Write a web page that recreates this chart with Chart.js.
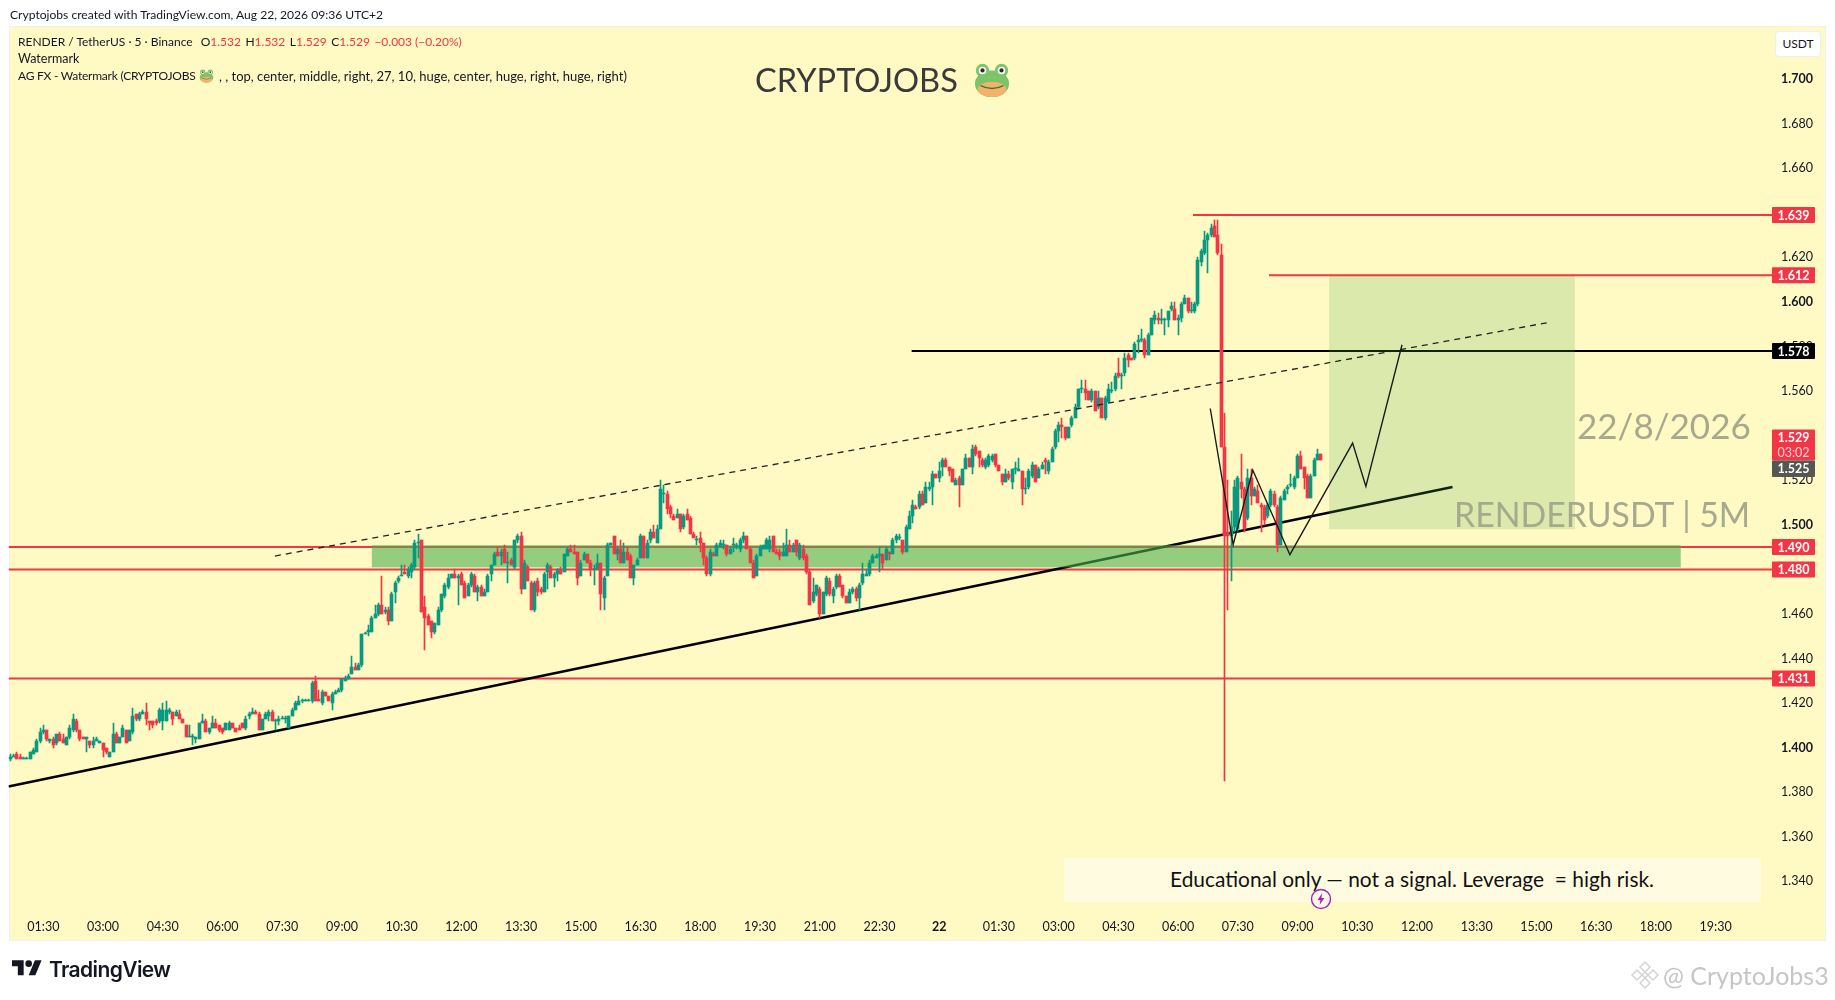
<!DOCTYPE html>
<html>
<head>
<meta charset="utf-8">
<title>RENDERUSDT 5M</title>
<script src="https://cdn.jsdelivr.net/npm/chart.js@4/dist/chart.umd.js"></script>
<style>
  html, body { margin: 0; background: #fff; }
  body { position: relative; width: 1835px; height: 1000px; overflow: hidden; font-family: Lato, sans-serif; color: #131722; }
  #panel { position: absolute; left: 10px; top: 27px; width: 1815px; height: 913px; background: #FFF9C4; box-shadow: 0 0 0 1px #f0f0f0; }
  #chart { position: absolute; left: 0; top: 0; }
  .t { position: absolute; white-space: nowrap; }
  .red { color: #F23645; }
  .gap { margin-left: 4.5px; }
  .wm { color: #A7A98F; font-size: 35px; line-height: 44px; }
  #usdt { left: 1775px; top: 31px; width: 46px; height: 26px; line-height: 26px; text-align: center; background: #fff; border-radius: 4px; box-sizing: border-box; box-shadow: inset 0 0 0 1px #eceef2; font-size: 12px; }
  #edu { left: 1064px; top: 858px; width: 697px; height: 44px; background: #FFFBE1; }
  svg { position: absolute; }
</style>
</head>
<body>
<div id="panel"></div>
<canvas id="chart" width="1835" height="1000"></canvas>

<div class="t" style="left:10px;top:7px;font-size:12.1px;line-height:16px">Cryptojobs created with TradingView.com, Aug 22, 2026 09:36 UTC+2</div>
<div class="t" style="left:18px;top:34px;font-size:12px;line-height:16px">RENDER / TetherUS · 5 · Binance<span style="margin-left:8px">O</span><span class="red">1.532</span><span class="gap">H</span><span class="red">1.532</span><span class="gap">L</span><span class="red">1.529</span><span class="gap">C</span><span class="red">1.529</span><span class="red gap">−0.003 (−0.20%)</span></div>
<div class="t" style="left:18px;top:51px;font-size:12.5px;line-height:16px">Watermark</div>
<div class="t" style="left:18px;top:68px;font-size:12px;letter-spacing:-0.24px;line-height:16px">AG FX - Watermark (CRYPTOJOBS</div>
<svg style="left:199px;top:68px" width="15" height="15" viewBox="0 0 40 40"><use href="#frog"/></svg>
<div class="t" style="left:219px;top:68px;font-size:13px;line-height:16px">, , top, center, middle, right, 27, 10, huge, center, huge, right, huge, right)</div>

<div class="t" style="left:755px;top:58px;font-size:32.6px;line-height:44px;color:#3a3a3a">CRYPTOJOBS</div>
<svg style="left:973px;top:60px" width="38" height="38" viewBox="0 0 40 40">
  <defs><g id="frog">
    <ellipse cx="20" cy="25" rx="18" ry="14" fill="#7CC36A"/>
    <ellipse cx="20" cy="31" rx="15" ry="8" fill="#F5B26B"/>
    <circle cx="10" cy="11" r="7" fill="#7CC36A"/><circle cx="30" cy="11" r="7" fill="#7CC36A"/>
    <circle cx="10" cy="11" r="4" fill="#fff"/><circle cx="30" cy="11" r="4" fill="#fff"/>
    <circle cx="10" cy="11" r="2.2" fill="#2b2b2b"/><circle cx="30" cy="11" r="2.2" fill="#2b2b2b"/>
    <path d="M8 27 Q20 33 32 27" stroke="#3d7a3a" stroke-width="1.5" fill="none"/>
  </g></defs>
  <use href="#frog"/>
</svg>

<div id="usdt" class="t">USDT</div>
<div class="t wm" style="left:1577px;top:403px">22/8/2026</div>
<div class="t wm" style="left:1454px;top:492px;font-size:33.8px">RENDERUSDT | 5M</div>

<div id="edu" class="t"></div>
<div class="t" style="left:1170px;top:865px;font-size:20.9px;line-height:28px;color:#111">Educational only — not a signal. Leverage&nbsp; = high risk.</div>
<svg style="left:1310px;top:888px" width="22" height="22" viewBox="0 0 22 22">
  <circle cx="11" cy="11" r="9.5" fill="#FFF8E8" stroke="#9C27B0" stroke-width="1.4"/>
  <path d="M12.2 5 L7.6 12 H10.4 L9.6 17 L14.4 10 H11.4 Z" fill="#9C27B0"/>
</svg>

<svg style="left:12px;top:957px" width="30" height="23.4" viewBox="0 0 36 28" fill="#131722">
  <path d="M14 22H7V11H0V4h14v18zM28 22h-8l7.5-18h8L28 22z"/><circle cx="20" cy="8" r="4"/>
</svg>
<div class="t" style="left:49px;top:955px;font-family:Inter,sans-serif;font-weight:600;font-size:21px;line-height:30px;letter-spacing:-0.6px;color:#131722">TradingView</div>

<svg style="left:1630px;top:960px" width="30" height="30" viewBox="0 0 30 30" fill="none" stroke="#d2d2d2" stroke-width="1.4">
  <path d="M15 2 L20 7 L15 12 L10 7 Z M7 10 L12 15 L7 20 L2 15 Z M23 10 L28 15 L23 20 L18 15 Z M15 18 L20 23 L15 28 L10 23 Z M15 12 L18 15 L15 18 L12 15 Z"/>
</svg>
<div class="t" style="left:1663px;top:960px;font-size:25px;line-height:30px;color:#c6c6c6">@ CryptoJobs3</div>

<script>
// OHLC of the 5 minute candles
const candleOpen = [
  1.395,1.396,1.397,1.396,1.395,1.395,1.395,1.397,1.398,1.403,
  1.407,1.408,1.403,1.404,1.402,1.406,1.404,1.401,1.405,1.408,
  1.412,1.408,1.405,1.404,1.403,1.401,1.403,1.402,1.402,1.400,
  1.396,1.398,1.406,1.402,1.405,1.408,1.403,1.407,1.415,1.413,
  1.415,1.416,1.412,1.412,1.412,1.412,1.412,1.412,1.416,1.416,
  1.414,1.415,1.413,1.410,1.405,1.405,1.404,1.404,1.411,1.412,
  1.407,1.409,1.411,1.410,1.409,1.408,1.408,1.411,1.409,1.409,
  1.411,1.409,1.414,1.415,1.416,1.415,1.408,1.413,1.414,1.416,
  1.412,1.412,1.413,1.413,1.409,1.414,1.417,1.419,1.421,1.421,
  1.421,1.421,1.430,1.422,1.420,1.425,1.423,1.420,1.424,1.425,
  1.426,1.430,1.431,1.433,1.436,1.435,1.437,1.451,1.452,1.452,
  1.458,1.460,1.464,1.461,1.462,1.457,1.470,1.475,1.477,1.479,
  1.477,1.479,1.481,1.492,1.493,1.463,1.459,1.457,1.452,1.455,
  1.462,1.468,1.472,1.476,1.478,1.476,1.478,1.474,1.468,1.473,
  1.477,1.470,1.472,1.468,1.470,1.478,1.482,1.488,1.486,1.489,
  1.483,1.484,1.481,1.493,1.495,1.471,1.481,1.474,1.462,1.475,
  1.471,1.470,1.479,1.481,1.476,1.478,1.480,1.479,1.486,1.489,
  1.488,1.488,1.477,1.484,1.487,1.483,1.480,1.480,1.483,1.467,
  1.477,1.491,1.495,1.487,1.489,1.483,1.488,1.486,1.476,1.482,
  1.485,1.495,1.485,1.493,1.497,1.492,1.498,1.514,1.514,1.508,
  1.504,1.503,1.505,1.499,1.505,1.503,1.496,1.493,1.494,1.492,
  1.485,1.478,1.487,1.486,1.490,1.491,1.491,1.487,1.491,1.490,
  1.489,1.493,1.495,1.489,1.483,1.477,1.486,1.489,1.489,1.489,
  1.495,1.488,1.488,1.486,1.486,1.491,1.488,1.493,1.485,1.489,
  1.486,1.479,1.466,1.469,1.471,1.460,1.469,1.475,1.468,1.472,
  1.477,1.473,1.468,1.465,1.470,1.471,1.467,1.474,1.477,1.478,
  1.483,1.485,1.486,1.487,1.484,1.488,1.487,1.493,1.494,1.493,
  1.488,1.498,1.504,1.508,1.508,1.514,1.510,1.516,1.517,1.523,
  1.521,1.526,1.529,1.526,1.525,1.518,1.521,1.518,1.525,1.530,
  1.526,1.535,1.533,1.529,1.526,1.527,1.529,1.532,1.527,1.523,
  1.519,1.523,1.519,1.525,1.524,1.524,1.516,1.517,1.522,1.527,
  1.521,1.525,1.529,1.524,1.528,1.535,1.542,1.545,1.544,1.539,
  1.545,1.548,1.553,1.561,1.561,1.560,1.556,1.560,1.553,1.557,
  1.548,1.555,1.560,1.561,1.568,1.567,1.568,1.576,1.575,1.575,
  1.582,1.583,1.583,1.576,1.585,1.592,1.593,1.592,1.592,1.592,
  1.597,1.597,1.592,1.593,1.599,1.602,1.596,1.596,1.599,1.618,
  1.622,1.628,1.630,1.634,1.630,1.621,1.535,1.497,1.495,1.499,
  1.498,1.519,1.516,1.503,1.521,1.513,1.515,1.509,1.508,1.504,
  1.509,1.514,1.508,1.491,1.511,1.516,1.518,1.517,1.521,1.531,
  1.526,1.522,1.512,1.522,1.529,1.532
];
const candleClose = [
  1.396,1.396,1.395,1.395,1.395,1.395,1.398,1.399,1.403,1.407,
  1.408,1.404,1.404,1.401,1.406,1.403,1.402,1.405,1.409,1.413,
  1.408,1.404,1.404,1.405,1.401,1.403,1.404,1.403,1.399,1.398,
  1.398,1.406,1.402,1.405,1.409,1.402,1.408,1.414,1.413,1.415,
  1.416,1.413,1.411,1.410,1.411,1.417,1.417,1.417,1.417,1.413,
  1.416,1.413,1.411,1.405,1.405,1.405,1.405,1.411,1.412,1.407,
  1.409,1.411,1.409,1.408,1.407,1.411,1.411,1.409,1.407,1.408,
  1.409,1.413,1.415,1.416,1.415,1.408,1.413,1.415,1.416,1.412,
  1.412,1.413,1.413,1.413,1.414,1.417,1.420,1.421,1.421,1.421,
  1.421,1.429,1.421,1.421,1.425,1.423,1.421,1.424,1.425,1.426,
  1.431,1.431,1.432,1.436,1.435,1.437,1.451,1.451,1.453,1.458,
  1.460,1.464,1.460,1.462,1.457,1.469,1.474,1.476,1.477,1.478,
  1.480,1.482,1.492,1.492,1.461,1.458,1.455,1.452,1.456,1.462,
  1.469,1.473,1.476,1.478,1.476,1.477,1.473,1.467,1.473,1.478,
  1.470,1.472,1.468,1.470,1.477,1.482,1.487,1.486,1.488,1.483,
  1.483,1.482,1.493,1.495,1.471,1.483,1.475,1.462,1.474,1.470,
  1.470,1.478,1.482,1.476,1.478,1.480,1.478,1.487,1.489,1.488,
  1.487,1.476,1.483,1.487,1.483,1.480,1.480,1.483,1.469,1.476,
  1.491,1.492,1.487,1.489,1.483,1.488,1.484,1.476,1.482,1.484,
  1.495,1.485,1.492,1.497,1.494,1.498,1.516,1.514,1.507,1.505,
  1.502,1.505,1.498,1.504,1.502,1.496,1.494,1.493,1.492,1.485,
  1.478,1.488,1.486,1.491,1.492,1.491,1.487,1.489,1.491,1.491,
  1.493,1.495,1.489,1.483,1.476,1.486,1.490,1.491,1.493,1.493,
  1.488,1.487,1.486,1.488,1.491,1.488,1.491,1.488,1.491,1.485,
  1.479,1.464,1.470,1.473,1.460,1.470,1.476,1.469,1.471,1.477,
  1.472,1.468,1.465,1.470,1.471,1.467,1.473,1.478,1.478,1.483,
  1.486,1.486,1.487,1.483,1.489,1.487,1.493,1.495,1.494,1.488,
  1.499,1.504,1.509,1.507,1.514,1.509,1.517,1.517,1.523,1.521,
  1.524,1.529,1.526,1.524,1.519,1.520,1.518,1.525,1.530,1.526,
  1.534,1.532,1.530,1.527,1.529,1.531,1.531,1.527,1.524,1.519,
  1.523,1.521,1.525,1.525,1.525,1.516,1.516,1.524,1.527,1.519,
  1.525,1.527,1.528,1.528,1.534,1.542,1.545,1.544,1.539,1.544,
  1.548,1.553,1.561,1.561,1.559,1.556,1.560,1.551,1.557,1.548,
  1.557,1.561,1.560,1.567,1.567,1.567,1.575,1.574,1.574,1.581,
  1.583,1.583,1.576,1.585,1.593,1.594,1.592,1.592,1.592,1.596,
  1.598,1.592,1.593,1.599,1.602,1.596,1.596,1.599,1.619,1.623,
  1.628,1.630,1.633,1.629,1.622,1.535,1.495,1.495,1.499,1.517,
  1.521,1.516,1.498,1.521,1.513,1.516,1.510,1.508,1.502,1.509,
  1.515,1.509,1.491,1.512,1.515,1.517,1.518,1.521,1.531,1.525,
  1.521,1.512,1.522,1.529,1.532,1.529
];
const candleHigh = [
  1.397,1.397,1.398,1.397,1.396,1.396,1.398,1.400,1.404,1.409,
  1.410,1.408,1.404,1.405,1.406,1.407,1.406,1.405,1.410,1.415,
  1.413,1.408,1.405,1.405,1.403,1.405,1.405,1.403,1.402,1.400,
  1.398,1.411,1.407,1.405,1.410,1.408,1.408,1.418,1.415,1.416,
  1.417,1.420,1.412,1.412,1.413,1.418,1.420,1.421,1.418,1.416,
  1.417,1.417,1.413,1.410,1.410,1.406,1.405,1.411,1.415,1.413,
  1.409,1.414,1.413,1.410,1.409,1.411,1.412,1.411,1.409,1.410,
  1.411,1.414,1.416,1.418,1.417,1.416,1.413,1.416,1.417,1.417,
  1.413,1.414,1.414,1.414,1.414,1.418,1.421,1.423,1.422,1.422,
  1.422,1.430,1.432,1.426,1.426,1.425,1.423,1.425,1.426,1.427,
  1.431,1.432,1.433,1.441,1.438,1.438,1.451,1.452,1.455,1.459,
  1.464,1.465,1.477,1.463,1.463,1.470,1.475,1.477,1.482,1.482,
  1.481,1.483,1.493,1.496,1.493,1.468,1.460,1.457,1.456,1.463,
  1.469,1.474,1.478,1.478,1.480,1.478,1.479,1.475,1.474,1.479,
  1.478,1.473,1.473,1.471,1.478,1.482,1.488,1.490,1.489,1.491,
  1.488,1.485,1.493,1.496,1.497,1.484,1.482,1.475,1.475,1.476,
  1.472,1.479,1.483,1.482,1.479,1.480,1.481,1.487,1.490,1.491,
  1.491,1.488,1.484,1.488,1.487,1.484,1.482,1.487,1.483,1.477,
  1.492,1.492,1.495,1.490,1.493,1.492,1.490,1.487,1.482,1.485,
  1.496,1.495,1.493,1.498,1.500,1.500,1.520,1.518,1.515,1.509,
  1.505,1.507,1.505,1.505,1.507,1.504,1.497,1.495,1.497,1.492,
  1.486,1.489,1.488,1.492,1.493,1.493,1.491,1.490,1.494,1.492,
  1.494,1.497,1.495,1.490,1.484,1.487,1.491,1.491,1.494,1.495,
  1.495,1.489,1.489,1.492,1.498,1.493,1.492,1.493,1.492,1.491,
  1.487,1.480,1.476,1.473,1.472,1.470,1.477,1.476,1.472,1.478,
  1.478,1.473,1.468,1.471,1.472,1.472,1.474,1.483,1.480,1.484,
  1.487,1.487,1.490,1.487,1.490,1.488,1.494,1.496,1.496,1.493,
  1.500,1.506,1.511,1.509,1.515,1.515,1.519,1.519,1.524,1.523,
  1.528,1.530,1.530,1.526,1.525,1.521,1.522,1.525,1.532,1.530,
  1.536,1.536,1.533,1.530,1.530,1.532,1.532,1.532,1.527,1.523,
  1.525,1.524,1.525,1.528,1.530,1.524,1.521,1.525,1.528,1.527,
  1.526,1.528,1.530,1.529,1.535,1.543,1.546,1.548,1.544,1.544,
  1.549,1.554,1.561,1.565,1.565,1.560,1.561,1.560,1.560,1.557,
  1.558,1.563,1.564,1.568,1.575,1.568,1.577,1.577,1.575,1.582,
  1.585,1.588,1.584,1.586,1.593,1.596,1.595,1.597,1.593,1.596,
  1.600,1.600,1.594,1.600,1.603,1.602,1.600,1.600,1.620,1.624,
  1.632,1.631,1.635,1.637,1.637,1.626,1.550,1.520,1.506,1.520,
  1.522,1.532,1.517,1.525,1.525,1.517,1.518,1.510,1.509,1.510,
  1.516,1.515,1.509,1.513,1.516,1.518,1.523,1.522,1.532,1.533,
  1.526,1.523,1.523,1.530,1.534,1.532
];
const candleLow = [
  1.394,1.396,1.395,1.395,1.395,1.395,1.395,1.397,1.398,1.402,
  1.406,1.403,1.402,1.400,1.401,1.403,1.402,1.401,1.404,1.407,
  1.407,1.403,1.404,1.398,1.400,1.400,1.403,1.402,1.396,1.397,
  1.396,1.398,1.402,1.402,1.405,1.402,1.403,1.406,1.412,1.412,
  1.415,1.410,1.408,1.409,1.410,1.411,1.408,1.412,1.415,1.410,
  1.414,1.413,1.411,1.405,1.405,1.401,1.402,1.404,1.411,1.407,
  1.406,1.409,1.409,1.407,1.406,1.408,1.408,1.409,1.407,1.408,
  1.409,1.408,1.413,1.415,1.415,1.408,1.408,1.413,1.412,1.412,
  1.408,1.410,1.413,1.411,1.409,1.414,1.417,1.419,1.420,1.421,
  1.421,1.420,1.421,1.421,1.419,1.423,1.421,1.417,1.424,1.425,
  1.425,1.430,1.431,1.433,1.435,1.435,1.436,1.451,1.450,1.452,
  1.458,1.459,1.460,1.460,1.455,1.457,1.465,1.474,1.477,1.478,
  1.476,1.476,1.480,1.485,1.461,1.444,1.455,1.449,1.451,1.455,
  1.461,1.467,1.471,1.476,1.476,1.464,1.473,1.467,1.468,1.472,
  1.470,1.466,1.468,1.468,1.470,1.475,1.482,1.486,1.482,1.483,
  1.474,1.482,1.480,1.492,1.469,1.471,1.475,1.462,1.461,1.468,
  1.469,1.470,1.471,1.476,1.472,1.475,1.478,1.479,1.486,1.488,
  1.487,1.473,1.477,1.484,1.483,1.477,1.473,1.480,1.462,1.462,
  1.477,1.491,1.487,1.484,1.483,1.483,1.484,1.476,1.473,1.482,
  1.485,1.485,1.485,1.492,1.494,1.492,1.498,1.510,1.505,1.503,
  1.502,1.503,1.497,1.498,1.502,1.496,1.494,1.491,1.488,1.482,
  1.477,1.477,1.486,1.486,1.490,1.489,1.486,1.487,1.488,1.489,
  1.488,1.492,1.489,1.483,1.476,1.477,1.486,1.489,1.489,1.488,
  1.488,1.487,1.484,1.486,1.486,1.488,1.488,1.486,1.484,1.484,
  1.478,1.464,1.465,1.468,1.458,1.460,1.468,1.468,1.465,1.471,
  1.472,1.467,1.465,1.465,1.469,1.466,1.462,1.473,1.477,1.477,
  1.483,1.485,1.479,1.480,1.484,1.484,1.487,1.492,1.493,1.487,
  1.488,1.498,1.501,1.507,1.507,1.509,1.510,1.515,1.509,1.521,
  1.519,1.522,1.526,1.522,1.519,1.518,1.508,1.518,1.525,1.526,
  1.523,1.531,1.526,1.526,1.525,1.526,1.528,1.526,1.524,1.518,
  1.519,1.520,1.516,1.523,1.524,1.509,1.514,1.516,1.521,1.519,
  1.521,1.525,1.523,1.523,1.528,1.534,1.537,1.539,1.538,1.539,
  1.544,1.548,1.552,1.559,1.556,1.556,1.555,1.551,1.552,1.548,
  1.547,1.555,1.559,1.560,1.566,1.561,1.567,1.571,1.574,1.574,
  1.577,1.582,1.575,1.576,1.585,1.590,1.590,1.590,1.585,1.589,
  1.596,1.592,1.585,1.591,1.599,1.595,1.595,1.595,1.598,1.616,
  1.621,1.613,1.629,1.629,1.621,1.535,1.385,1.462,1.475,1.497,
  1.497,1.512,1.497,1.502,1.509,1.513,1.510,1.497,1.500,1.503,
  1.508,1.508,1.488,1.491,1.511,1.514,1.517,1.516,1.521,1.525,
  1.516,1.512,1.512,1.522,1.529,1.529
];

const timeLabels = ['01:30','03:00','04:30','06:00','07:30','09:00','10:30','12:00','13:30','15:00','16:30','18:00','19:30','21:00','22:30','22',
  '01:30','03:00','04:30','06:00','07:30','09:00','10:30','12:00','13:30','15:00','16:30','18:00','19:30'];
const priceTicks = [1.34,1.36,1.38,1.40,1.42,1.44,1.46,1.48,1.50,1.52,1.54,1.56,1.58,1.60,1.62,1.64,1.66,1.68,1.70];

// horizontal levels: price, first bar
const levelPrices = [1.639, 1.612, 1.578, 1.490, 1.480, 1.431];
const levelStarts = [356.5, 379.4, 271.7, -0.5, -0.5, -0.5];
const levelColors = ['#F23645', '#F23645', '#000000', '#F23645', '#F23645', '#F23645'];

// drawings as [bar, price]
const supportLine = [[-0.5, 1.3826], [434.7, 1.517]];
const channelLine = [[79.8, 1.486], [463.2, 1.5907]];
const projection = [[361.7, 1.5522], [368.6, 1.4911], [374.5, 1.5246], [385.7, 1.4866], [404.6, 1.5367], [408.6, 1.5172], [419.5, 1.5808]];

// boxes: first bar, last bar, top price, bottom price
const zoneBox = [109, 503.5, 1.4909, 1.4809];
const targetBox = [397.5, 471.6, 1.6117, 1.498];

const X_MIN = -0.5, X_MAX = 531;
const Y_MIN = 1.3294, Y_MAX = 1.7234;
const UP = '#089981', DOWN = '#F23645';

const toXY = ([x, y]) => ({ x, y });
const candleColor = ctx => candleClose[ctx.dataIndex] >= candleOpen[ctx.dataIndex] ? UP : DOWN;

function lineSet(points, color, width, order, dash) {
  return {
    type: 'line', data: points.map(toXY), borderColor: color, borderWidth: width,
    borderDash: dash || [], pointRadius: 0, tension: 0, order,
  };
}

const levelSets = levelPrices.map((p, i) =>
  lineSet([[levelStarts[i], p], [X_MAX, p]], levelColors[i], 2, 10));

const boxesPlugin = {
  id: 'boxes',
  // boxes sit over the level lines and the support line, under the candles
  beforeDatasetDraw(chart, args) {
    if (args.meta.type !== 'bar' || args.meta.order !== 5) return;
    const { x, y } = chart.scales;
    const ctx = chart.ctx;
    const fill = (box, color) => {
      ctx.fillStyle = color;
      ctx.fillRect(x.getPixelForValue(box[0]), y.getPixelForValue(box[2]),
        x.getPixelForValue(box[1]) - x.getPixelForValue(box[0]), y.getPixelForValue(box[3]) - y.getPixelForValue(box[2]));
    };
    fill(targetBox, 'rgba(76,175,80,0.2)');
    fill(zoneBox, 'rgba(76,175,80,0.6)');
  },
};

// keep the candles on whole pixels so they stay as sharp as the reference
const snapPlugin = {
  id: 'snap',
  afterDatasetsUpdate(chart) {
    chart.getSortedVisibleDatasetMetas().forEach(meta => {
      if (meta.type !== 'bar') return;
      meta.data.forEach(el => {
        el.x = Math.floor(el.x) + 0.5;
        el.y = Math.round(el.y);
        el.base = Math.round(el.base);
        if (el.y === el.base) el.base += 1;
      });
    });
  },
};

const tagsPlugin = {
  id: 'tags',
  afterDraw(chart) {
    const { ctx, chartArea } = chart;
    const y = chart.scales.y;
    const left = chartArea.right, w = 43;
    const rect = (top, h, color) => {
      ctx.fillStyle = color;
      ctx.beginPath();
      ctx.roundRect(left, top, w, h, 1);
      ctx.fill();
    };
    const label = (text, cy, color, weight) => {
      ctx.fillStyle = color;
      ctx.font = (weight || 'bold') + ' 12.5px Lato, sans-serif';
      ctx.textAlign = 'center';
      ctx.textBaseline = 'middle';
      ctx.fillText(text, left + w / 2, cy);
    };
    levelPrices.forEach((p, i) => {
      const cy = y.getPixelForValue(p);
      rect(cy - 8, 16, levelColors[i]);
      label(p.toFixed(3), cy + 0.5, '#fff');
    });
    // last price with countdown, prior close below it
    const prevY = y.getPixelForValue(1.525);
    rect(prevY - 8.5 - 31, 31, '#F23645');
    label('1.529', prevY - 8.5 - 23, '#fff');
    label('03:02', prevY - 8.5 - 8, '#FFD0D5', 'normal');
    rect(prevY - 8.5, 16.5, '#555753');
    label('1.525', prevY, '#fff');
  },
};

new Chart(document.getElementById('chart'), {
  type: 'bar',
  data: {
    datasets: [
      lineSet(supportLine, '#000000', 2.5, 9),
      ...levelSets,
      {
        data: candleLow.map((l, i) => ({ x: i, y: [l, candleHigh[i]] })),
        backgroundColor: candleColor, barThickness: 1, grouped: false, order: 5,
      },
      {
        data: candleOpen.map((o, i) => ({ x: i, y: [o, candleClose[i]] })),
        backgroundColor: candleColor, barThickness: 3, grouped: false, minBarLength: 1, order: 4,
      },
      lineSet(channelLine, '#222222', 1.3, 2, [6, 5]),
      lineSet(projection, '#1c1c1c', 1.4, 1),
    ],
  },
  options: {
    responsive: false,
    animation: false,
    devicePixelRatio: 1,
    events: [],
    layout: { padding: { left: 8.5, top: 27, right: 0, bottom: 60 } },
    plugins: { legend: { display: false }, tooltip: { enabled: false } },
    scales: {
      x: {
        type: 'linear', min: X_MIN, max: X_MAX, offset: false,
        grid: { display: false, drawTicks: false }, border: { display: false },
        afterBuildTicks: s => { s.ticks = timeLabels.map((_, k) => ({ value: 10 + 18 * k })); },
        afterFit: s => { s.height = 35; },
        ticks: {
          autoSkip: false, maxRotation: 0, padding: 14, color: '#131722',
          font: ctx => ({ family: 'Lato, sans-serif', size: 12.5, weight: ctx.index === 15 ? 'bold' : 'normal' }),
          callback: (v, k) => timeLabels[k],
        },
      },
      y: {
        type: 'linear', position: 'right', min: Y_MIN, max: Y_MAX,
        grid: { display: false, drawTicks: false }, border: { display: false },
        afterBuildTicks: s => { s.ticks = priceTicks.map(value => ({ value })); },
        afterFit: s => { s.width = 63; },
        ticks: {
          padding: 9, color: '#131722',
          font: ctx => ({ family: 'Lato, sans-serif', size: 12.5, weight: ctx.tick && Math.round(ctx.tick.value * 100) % 10 === 0 ? 'bold' : 'normal' }),
          callback: v => v.toFixed(3),
        },
      },
    },
  },
  plugins: [snapPlugin, boxesPlugin, tagsPlugin],
});
</script>
</body>
</html>
